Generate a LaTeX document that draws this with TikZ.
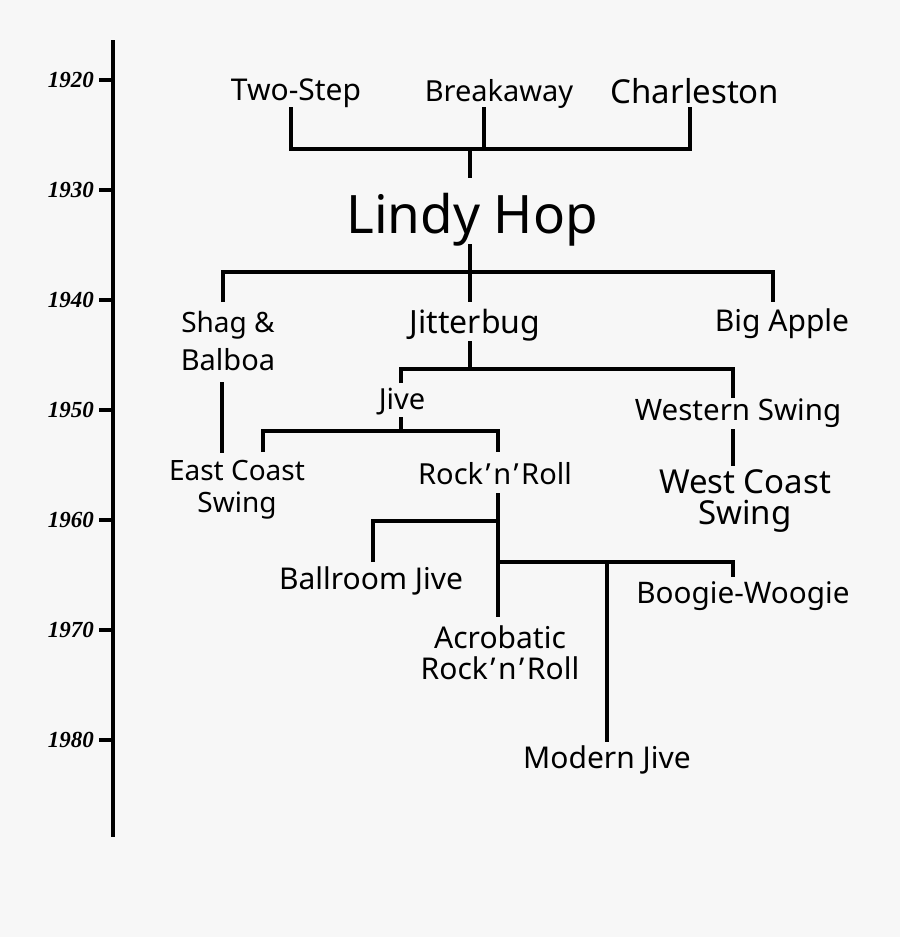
\documentclass[tikz,border=0pt]{standalone}
\usepackage{fontspec}
\setmainfont{Noto Sans}
\newfontfamily\yearfont{Liberation Serif}
\definecolor{bg}{HTML}{F7F7F7}
\newcommand{\fsz}[1]{\fontsize{#1}{#1}\selectfont}
\newcommand{\rnrtext}{Rock\kern2.5pt’\kern2.5pt n\kern2.5pt’\kern2.5pt Roll}
\begin{document}
\begin{tikzpicture}[x=1pt,y=-1pt,
  lbl/.style={anchor=base,inner sep=0pt,text=black},
  yr/.style={anchor=base east,inner sep=0pt,font=\yearfont\bfseries\itshape\fsz{23}},
  br/.style={line width=4pt,line cap=butt,line join=miter},
  ax/.style={line width=3.5pt}]
\fill[bg] (0,0) rectangle (900,937);
\useasboundingbox (0,0) rectangle (900,937);
% axis
\coordinate (axtop) at (113,40);
\coordinate (axbot) at (113,837);
\draw[ax] (axtop) -- (axbot);
\foreach \yy/\lab in {80/1920,190/1930,300/1940,410/1950,520/1960,630/1970,740/1980}{
  \coordinate (t\lab) at (99,\yy);
  \draw[ax] (t\lab) -- (t\lab -| axtop);
  \node[yr] (y\lab) at (94,\yy+7.5) {\lab};
}
% labels
\node[lbl,font=\fsz{30}] (twostep) at (296,100) {Two-Step};
\node[lbl,font=\fsz{29}] (breakaway) at (499,101) {Breakaway};
\node[lbl,font=\fsz{33}] (charleston) at (695,103) {Charleston};
\node[lbl,font=\fsz{53}] (lindy) at (472,233) {Lindy Hop};
\node[lbl,font=\fsz{32}] (jitterbug) at (475,333) {Jitterbug};
\node[lbl,font=\fsz{30}] (bigapple) at (782,331) {Big Apple};
\node[lbl,font=\fsz{28}] (shag1) at (228,332) {Shag \&};
\node[lbl,font=\fsz{29}] (shag2) at (228,370) {Balboa};
\node[lbl,font=\fsz{28}] (ecs1) at (237,480) {East Coast};
\node[lbl,font=\fsz{28}] (ecs2) at (237,512) {Swing};
\node[lbl,font=\fsz{29}] (jive) at (402,409) {Jive};
\node[lbl,font=\fsz{29}] (rnr) at (495,484) {\rnrtext};
\node[lbl,font=\fsz{29.5}] (western) at (738,420) {Western Swing};
\node[lbl,font=\fsz{33}] (wcs1) at (745,493) {West Coast};
\node[lbl,font=\fsz{33}] (wcs2) at (745,524) {Swing};
\node[lbl,font=\fsz{30}] (ballroom) at (371,589) {Ballroom Jive};
\node[lbl,font=\fsz{29.7}] (boogie) at (743,603) {Boogie-Woogie};
\node[lbl,font=\fsz{30}] (acro1) at (500,648) {Acrobatic};
\node[lbl,font=\fsz{30}] (acro2) at (500,679) {\rnrtext};
\node[lbl,font=\fsz{30}] (modern) at (607,768) {Modern Jive};
% junction coordinates
\coordinate (a1) at (291,107); \coordinate (a2) at (291,149);
\coordinate (a3) at (690,149); \coordinate (a4) at (690,107);
\coordinate (a5) at (484,107); \coordinate (a6) at (484,149);
\coordinate (a7) at (470,149); \coordinate (a8) at (470,178);
\draw[br] (a1) -- (a2) -- (a3) -- (a4);
\draw[br] (a5) -- (a6);
\draw[br] (a7) -- (a8);
\coordinate (b1) at (470,244); \coordinate (b2) at (470,302);
\coordinate (b3) at (223,302); \coordinate (b4) at (223,272);
\coordinate (b5) at (773,272); \coordinate (b6) at (773,302);
\draw[br] (b1) -- (b2);
\draw[br] (b3) -- (b4) -- (b5) -- (b6);
\coordinate (c1) at (470,341); \coordinate (c2) at (470,369);
\coordinate (c3) at (401,383); \coordinate (c4) at (401,369);
\coordinate (c5) at (733,369); \coordinate (c6) at (733,398);
\draw[br] (c1) -- (c2);
\draw[br] (c3) -- (c4) -- (c5) -- (c6);
\coordinate (d1) at (401,417); \coordinate (d2) at (401,431);
\coordinate (d3) at (263,452); \coordinate (d4) at (263,431);
\coordinate (d5) at (498,431); \coordinate (d6) at (498,452);
\draw[br] (d1) -- (d2);
\draw[br] (d3) -- (d4) -- (d5) -- (d6);
\coordinate (e1) at (222,382); \coordinate (e2) at (222,453);
\draw[br] (e1) -- (e2);
\coordinate (f1) at (733,429); \coordinate (f2) at (733,466);
\draw[br] (f1) -- (f2);
\coordinate (g1) at (498,493); \coordinate (g2) at (498,617);
\coordinate (g3) at (373,562); \coordinate (g4) at (373,521);
\coordinate (g5) at (498,521);
\coordinate (g6) at (498,562); \coordinate (g7) at (733,562); \coordinate (g8) at (733,577);
\coordinate (g9) at (607,562); \coordinate (g10) at (607,742);
\draw[br] (g1) -- (g2);
\draw[br] (g3) -- (g4) -- (g5);
\draw[br] (g6) -- (g7) -- (g8);
\draw[br] (g9) -- (g10);
\end{tikzpicture}
\end{document}
